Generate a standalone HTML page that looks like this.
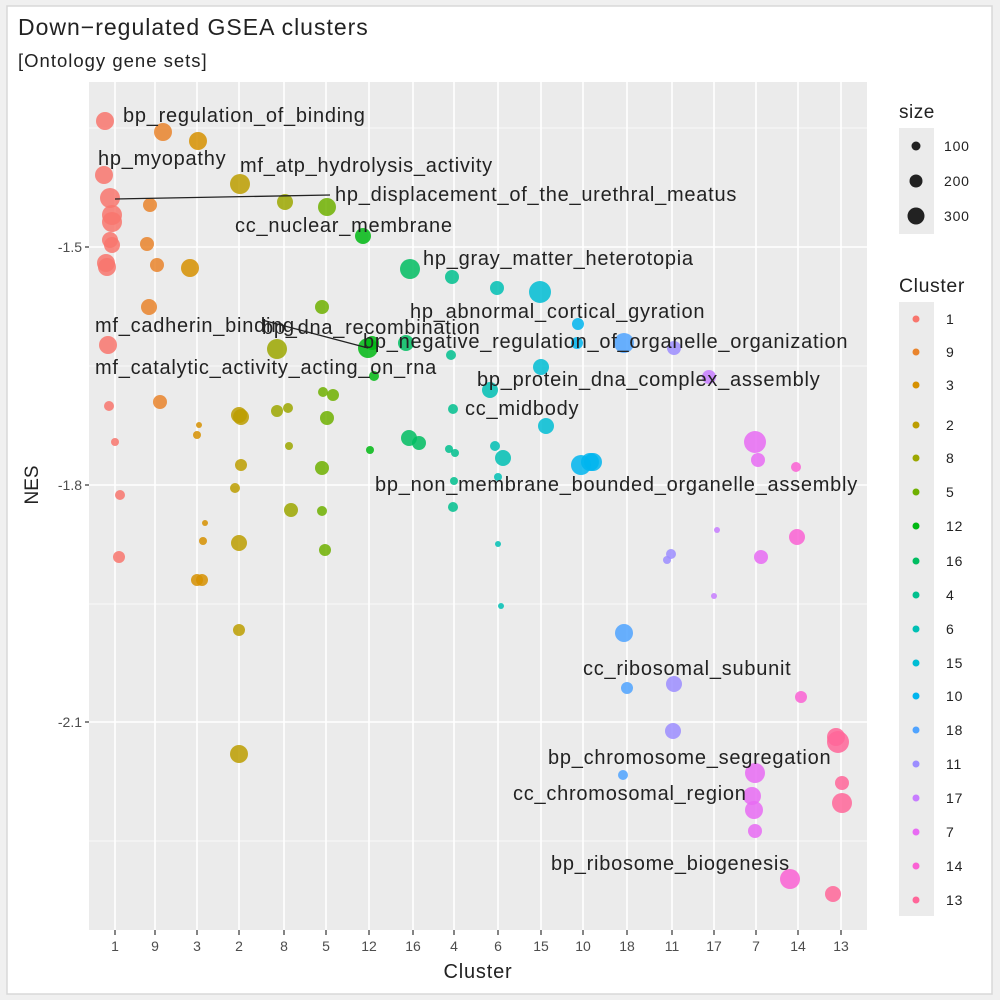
<!DOCTYPE html>
<html><head><meta charset="utf-8"><style>
body{margin:0;background:#f2f2f2}
svg{display:block}
text{font-family:"Liberation Sans",Arial,sans-serif}
</style></head><body>
<svg width="1000" height="1000" viewBox="0 0 1000 1000" xmlns="http://www.w3.org/2000/svg">
<rect x="0" y="0" width="1000" height="1000" fill="#f0f0f0"/>
<rect x="7" y="6" width="985" height="988" fill="#fff" stroke="#d8d8d8" stroke-width="1.5"/>
<text x="18" y="35" font-size="23" letter-spacing="1" fill="#222">Down−regulated GSEA clusters</text>
<text x="18" y="67" font-size="18.5" letter-spacing="1" fill="#222">[Ontology gene sets]</text>
<!-- panel -->
<rect x="89" y="82" width="778" height="848" fill="#ebebeb"/>
<g stroke="#fff" stroke-width="0.8">
<line x1="89" x2="867" y1="128" y2="128"/><line x1="89" x2="867" y1="366" y2="366"/><line x1="89" x2="867" y1="604" y2="604"/><line x1="89" x2="867" y1="841" y2="841"/>
</g>
<g stroke="#fff" stroke-width="1.6">
<line x1="89" x2="867" y1="247" y2="247"/><line x1="89" x2="867" y1="485" y2="485"/><line x1="89" x2="867" y1="722" y2="722"/>
<line x1="115" x2="115" y1="82" y2="930"/><line x1="155" x2="155" y1="82" y2="930"/><line x1="197" x2="197" y1="82" y2="930"/><line x1="239" x2="239" y1="82" y2="930"/><line x1="284" x2="284" y1="82" y2="930"/><line x1="326" x2="326" y1="82" y2="930"/><line x1="369" x2="369" y1="82" y2="930"/><line x1="413" x2="413" y1="82" y2="930"/><line x1="454" x2="454" y1="82" y2="930"/><line x1="498" x2="498" y1="82" y2="930"/><line x1="541" x2="541" y1="82" y2="930"/><line x1="583" x2="583" y1="82" y2="930"/><line x1="627" x2="627" y1="82" y2="930"/><line x1="672" x2="672" y1="82" y2="930"/><line x1="714" x2="714" y1="82" y2="930"/><line x1="756" x2="756" y1="82" y2="930"/><line x1="798" x2="798" y1="82" y2="930"/><line x1="841" x2="841" y1="82" y2="930"/>
</g>
<!-- points -->
<g fill-opacity="0.85">
<g fill="#F8766D"><circle cx="105" cy="121" r="9"/><circle cx="104" cy="175" r="9"/><circle cx="110" cy="198" r="10"/><circle cx="112" cy="215" r="10"/><circle cx="112" cy="222" r="10"/><circle cx="110" cy="240" r="8"/><circle cx="112" cy="245" r="8"/><circle cx="106" cy="263" r="9"/><circle cx="107" cy="267" r="9"/><circle cx="108" cy="345" r="9"/><circle cx="109" cy="406" r="5"/><circle cx="115" cy="442" r="4"/><circle cx="120" cy="495" r="5"/><circle cx="119" cy="557" r="6"/></g>
<g fill="#E9842C"><circle cx="163" cy="132" r="9"/><circle cx="150" cy="205" r="7"/><circle cx="147" cy="244" r="7"/><circle cx="157" cy="265" r="7"/><circle cx="149" cy="307" r="8"/><circle cx="160" cy="402" r="7"/></g>
<g fill="#D69100"><circle cx="198" cy="141" r="9"/><circle cx="190" cy="268" r="9"/><circle cx="199" cy="425" r="3"/><circle cx="197" cy="435" r="4"/><circle cx="205" cy="523" r="3"/><circle cx="203" cy="541" r="4"/><circle cx="197" cy="580" r="6"/><circle cx="202" cy="580" r="6"/></g>
<g fill="#BC9D00"><circle cx="240" cy="184" r="10"/><circle cx="241" cy="417" r="8"/><circle cx="239" cy="415" r="8"/><circle cx="241" cy="465" r="6"/><circle cx="235" cy="488" r="5"/><circle cx="239" cy="543" r="8"/><circle cx="239" cy="630" r="6"/><circle cx="239" cy="754" r="9"/></g>
<g fill="#9CA700"><circle cx="285" cy="202" r="8"/><circle cx="277" cy="349" r="10"/><circle cx="277" cy="411" r="6"/><circle cx="288" cy="408" r="5"/><circle cx="289" cy="446" r="4"/><circle cx="291" cy="510" r="7"/></g>
<g fill="#6FB000"><circle cx="327" cy="207" r="9"/><circle cx="322" cy="307" r="7"/><circle cx="323" cy="392" r="5"/><circle cx="333" cy="395" r="6"/><circle cx="327" cy="418" r="7"/><circle cx="322" cy="468" r="7"/><circle cx="322" cy="511" r="5"/><circle cx="325" cy="550" r="6"/></g>
<g fill="#00B813"><circle cx="363" cy="236" r="8"/><circle cx="368" cy="348" r="10"/><circle cx="372" cy="343" r="7"/><circle cx="374" cy="376" r="5"/><circle cx="370" cy="450" r="4"/></g>
<g fill="#00BD61"><circle cx="410" cy="269" r="10"/><circle cx="406" cy="343" r="8"/><circle cx="409" cy="438" r="8"/><circle cx="419" cy="443" r="7"/></g>
<g fill="#00C08E"><circle cx="452" cy="277" r="7"/><circle cx="451" cy="355" r="5"/><circle cx="453" cy="409" r="5"/><circle cx="449" cy="449" r="4"/><circle cx="455" cy="453" r="4"/><circle cx="454" cy="481" r="4"/><circle cx="453" cy="507" r="5"/></g>
<g fill="#00C0B4"><circle cx="497" cy="288" r="7"/><circle cx="490" cy="390" r="8"/><circle cx="495" cy="446" r="5"/><circle cx="503" cy="458" r="8"/><circle cx="498" cy="477" r="4"/><circle cx="498" cy="544" r="3"/><circle cx="501" cy="606" r="3"/></g>
<g fill="#00BDD4"><circle cx="540" cy="292" r="11"/><circle cx="541" cy="367" r="8"/><circle cx="546" cy="426" r="8"/></g>
<g fill="#00B5EE"><circle cx="578" cy="324" r="6"/><circle cx="577" cy="343" r="6"/><circle cx="581" cy="465" r="10"/><circle cx="590" cy="462" r="9"/><circle cx="593" cy="462" r="9"/></g>
<g fill="#4FA3FF"><circle cx="624" cy="343" r="10"/><circle cx="624" cy="633" r="9"/><circle cx="627" cy="688" r="6"/><circle cx="623" cy="775" r="5"/></g>
<g fill="#9C8DFF"><circle cx="674" cy="348" r="7"/><circle cx="667" cy="560" r="4"/><circle cx="671" cy="554" r="5"/><circle cx="674" cy="684" r="8"/><circle cx="673" cy="731" r="8"/></g>
<g fill="#C77CFF"><circle cx="709" cy="377" r="7"/><circle cx="717" cy="530" r="3"/><circle cx="714" cy="596" r="3"/></g>
<g fill="#E86BF3"><circle cx="755" cy="442" r="11"/><circle cx="758" cy="460" r="7"/><circle cx="761" cy="557" r="7"/><circle cx="755" cy="773" r="10"/><circle cx="752" cy="796" r="9"/><circle cx="754" cy="810" r="9"/><circle cx="755" cy="831" r="7"/></g>
<g fill="#FA62D4"><circle cx="796" cy="467" r="5"/><circle cx="797" cy="537" r="8"/><circle cx="801" cy="697" r="6"/><circle cx="790" cy="879" r="10"/></g>
<g fill="#FF6699"><circle cx="836" cy="737" r="9"/><circle cx="838" cy="742" r="11"/><circle cx="842" cy="783" r="7"/><circle cx="842" cy="803" r="10"/><circle cx="833" cy="894" r="8"/></g>
</g>
<!-- connector lines -->
<g stroke="#222" stroke-width="1.3">
<line x1="115" y1="199" x2="330" y2="195"/>
<line x1="262" y1="320" x2="368" y2="348"/>
</g>
<!-- labels -->
<g font-size="20" letter-spacing="0.75" fill="#222">
<text x="123" y="122">bp_regulation_of_binding</text>
<text x="98" y="165">hp_myopathy</text>
<text x="240" y="172">mf_atp_hydrolysis_activity</text>
<text x="335" y="201">hp_displacement_of_the_urethral_meatus</text>
<text x="235" y="232">cc_nuclear_membrane</text>
<text x="423" y="265">hp_gray_matter_heterotopia</text>
<text x="410" y="318">hp_abnormal_cortical_gyration</text>
<text x="95" y="332">mf_cadherin_binding</text>
<text x="262" y="334">bp_dna_recombination</text>
<text x="363" y="348">bp_negative_regulation_of_organelle_organization</text>
<text x="95" y="374">mf_catalytic_activity_acting_on_rna</text>
<text x="477" y="386">bp_protein_dna_complex_assembly</text>
<text x="465" y="415">cc_midbody</text>
<text x="375" y="491">bp_non_membrane_bounded_organelle_assembly</text>
<text x="583" y="675">cc_ribosomal_subunit</text>
<text x="548" y="764">bp_chromosome_segregation</text>
<text x="513" y="800">cc_chromosomal_region</text>
<text x="551" y="870">bp_ribosome_biogenesis</text>
</g>
<!-- axes -->
<g stroke="#333" stroke-width="1.2">
<line x1="85" x2="89" y1="247" y2="247"/><line x1="85" x2="89" y1="485" y2="485"/><line x1="85" x2="89" y1="722" y2="722"/>
</g>
<g font-size="14" fill="#4d4d4d" text-anchor="end">
<text x="82" y="252">-1.5</text><text x="82" y="490">-1.8</text><text x="82" y="727">-2.1</text>
</g>
<g stroke="#333" stroke-width="1.2">
<line x1="115" x2="115" y1="930" y2="935"/><line x1="155" x2="155" y1="930" y2="935"/><line x1="197" x2="197" y1="930" y2="935"/><line x1="239" x2="239" y1="930" y2="935"/><line x1="284" x2="284" y1="930" y2="935"/><line x1="326" x2="326" y1="930" y2="935"/><line x1="369" x2="369" y1="930" y2="935"/><line x1="413" x2="413" y1="930" y2="935"/><line x1="454" x2="454" y1="930" y2="935"/><line x1="498" x2="498" y1="930" y2="935"/><line x1="541" x2="541" y1="930" y2="935"/><line x1="583" x2="583" y1="930" y2="935"/><line x1="627" x2="627" y1="930" y2="935"/><line x1="672" x2="672" y1="930" y2="935"/><line x1="714" x2="714" y1="930" y2="935"/><line x1="756" x2="756" y1="930" y2="935"/><line x1="798" x2="798" y1="930" y2="935"/><line x1="841" x2="841" y1="930" y2="935"/>
</g>
<g font-size="14" fill="#4d4d4d" text-anchor="middle">
<text x="115" y="951">1</text><text x="155" y="951">9</text><text x="197" y="951">3</text><text x="239" y="951">2</text><text x="284" y="951">8</text><text x="326" y="951">5</text><text x="369" y="951">12</text><text x="413" y="951">16</text><text x="454" y="951">4</text><text x="498" y="951">6</text><text x="541" y="951">15</text><text x="583" y="951">10</text><text x="627" y="951">18</text><text x="672" y="951">11</text><text x="714" y="951">17</text><text x="756" y="951">7</text><text x="798" y="951">14</text><text x="841" y="951">13</text>
</g>
<text x="478" y="978" font-size="20" letter-spacing="0.8" fill="#222" text-anchor="middle">Cluster</text>
<text transform="translate(38,485) rotate(-90)" font-size="19" fill="#222" text-anchor="middle">NES</text>
<!-- legend size -->
<text x="899" y="118" font-size="19" letter-spacing="0.5" fill="#222">size</text>
<rect x="899" y="128" width="35" height="106" fill="#ebebeb"/>
<circle cx="916" cy="146" r="4.5" fill="#222"/>
<circle cx="916" cy="181" r="6.5" fill="#222"/>
<circle cx="916" cy="216" r="8.5" fill="#222"/>
<g font-size="14" letter-spacing="0.8" fill="#222"><text x="944" y="151">100</text><text x="944" y="186">200</text><text x="944" y="221">300</text></g>
<!-- legend cluster -->
<text x="899" y="292" font-size="19.5" letter-spacing="0.6" fill="#222">Cluster</text>
<rect x="899" y="302" width="35" height="614" fill="#ebebeb"/>
<g>
<circle cx="916" cy="319" r="3.5" fill="#F8766D"/><circle cx="916" cy="352" r="3.5" fill="#E9842C"/><circle cx="916" cy="385" r="3.5" fill="#D69100"/><circle cx="916" cy="425" r="3.5" fill="#BC9D00"/><circle cx="916" cy="458" r="3.5" fill="#9CA700"/><circle cx="916" cy="492" r="3.5" fill="#6FB000"/><circle cx="916" cy="526" r="3.5" fill="#00B813"/><circle cx="916" cy="561" r="3.5" fill="#00BD61"/><circle cx="916" cy="595" r="3.5" fill="#00C08E"/><circle cx="916" cy="629" r="3.5" fill="#00C0B4"/><circle cx="916" cy="663" r="3.5" fill="#00BDD4"/><circle cx="916" cy="696" r="3.5" fill="#00B5EE"/><circle cx="916" cy="730" r="3.5" fill="#4FA3FF"/><circle cx="916" cy="764" r="3.5" fill="#9C8DFF"/><circle cx="916" cy="798" r="3.5" fill="#C77CFF"/><circle cx="916" cy="832" r="3.5" fill="#E86BF3"/><circle cx="916" cy="866" r="3.5" fill="#FA62D4"/><circle cx="916" cy="900" r="3.5" fill="#FF6699"/>
</g>
<g font-size="14" letter-spacing="0.8" fill="#222">
<text x="946" y="324">1</text><text x="946" y="357">9</text><text x="946" y="390">3</text><text x="946" y="430">2</text><text x="946" y="463">8</text><text x="946" y="497">5</text><text x="946" y="531">12</text><text x="946" y="566">16</text><text x="946" y="600">4</text><text x="946" y="634">6</text><text x="946" y="668">15</text><text x="946" y="701">10</text><text x="946" y="735">18</text><text x="946" y="769">11</text><text x="946" y="803">17</text><text x="946" y="837">7</text><text x="946" y="871">14</text><text x="946" y="905">13</text>
</g>
</svg>
</body></html>
